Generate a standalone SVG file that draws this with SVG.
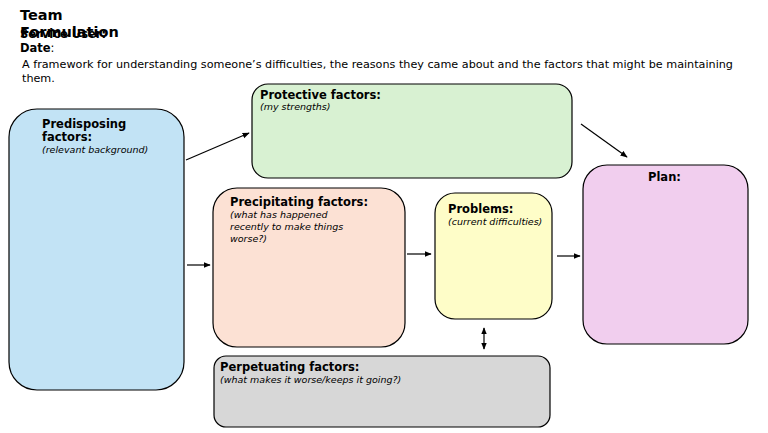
<svg xmlns="http://www.w3.org/2000/svg" width="768" height="433" viewBox="0 0 768 433">
<style>
text{font-family:"DejaVu Sans",sans-serif;fill:#000}
.h{font-size:11.5px;font-weight:bold}
.s{font-size:9.5px;font-style:italic}
.box{stroke:#000;stroke-width:1.2}
.c{stroke:#000;stroke-width:1.2;fill:none}
</style>
<defs><marker id="a" viewBox="0 0 10 10" refX="9" refY="5" markerWidth="6" markerHeight="6" orient="auto-start-reverse"><path d="M0,1L10,5L0,9z" fill="#000"/></marker></defs>
<rect width="768" height="433" fill="#fff"/>
<g id="title">
<text x="20" y="20" style="font-size:14.5px;font-weight:bold">Team</text>
<text x="20" y="37" style="font-size:14.5px;font-weight:bold">Formulation</text>
<text x="20" y="38" style="font-size:11.5px;font-weight:bold">Service User:</text>
<text x="20" y="52" style="font-size:11.5px"><tspan font-weight="bold">Date</tspan>:</text>
<text x="22" y="68" style="font-size:11.2px">A framework for understanding someone’s difficulties, the reasons they came about and the factors that might be maintaining</text>
<text x="22" y="82" style="font-size:11.2px">them.</text>
</g>
<g id="predisposing"><rect class="box" x="9" y="109" width="175" height="281" rx="28" fill="#c2e3f5"/>
<text class="h" x="42" y="128">Predisposing</text><text class="h" x="42" y="141">factors:</text><text class="s" x="42" y="153">(relevant background)</text></g>
<g id="protective"><rect class="box" x="252" y="84" width="320" height="94" rx="16" fill="#d8f1d2"/>
<text class="h" x="260" y="99">Protective factors:</text><text class="s" x="260" y="110">(my strengths)</text></g>
<g id="precipitating"><rect class="box" x="213" y="188" width="192" height="159" rx="24" fill="#fce1d4"/>
<text class="h" x="230" y="206">Precipitating factors:</text><text class="s" x="230" y="218">(what has happened</text><text class="s" x="230" y="230">recently to make things</text><text class="s" x="230" y="242">worse?)</text></g>
<g id="problems"><rect class="box" x="435" y="193" width="117" height="126" rx="20" fill="#fefdc8"/>
<text class="h" x="448" y="213">Problems:</text><text class="s" x="448" y="225">(current difficulties)</text></g>
<g id="plan"><rect class="box" x="583" y="165" width="165" height="179" rx="24" fill="#f1ceee"/>
<text class="h" x="648" y="181">Plan:</text></g>
<g id="perpetuating"><rect class="box" x="214" y="356" width="336" height="71" rx="12" fill="#d7d7d7"/>
<text class="h" x="220" y="371">Perpetuating factors:</text><text class="s" x="220" y="383">(what makes it worse/keeps it going?)</text></g>
<g id="connectors">
<path class="c" d="M186,160L249,133" marker-end="url(#a)"/>
<path class="c" d="M581,124L627,157" marker-end="url(#a)"/>
<path class="c" d="M187,265L210,265" marker-end="url(#a)"/>
<path class="c" d="M407,254L431,254" marker-end="url(#a)"/>
<path class="c" d="M557,256L580,256" marker-end="url(#a)"/>
<path class="c" d="M484,328L484,349" marker-start="url(#a)" marker-end="url(#a)"/>
</g>
</svg>
